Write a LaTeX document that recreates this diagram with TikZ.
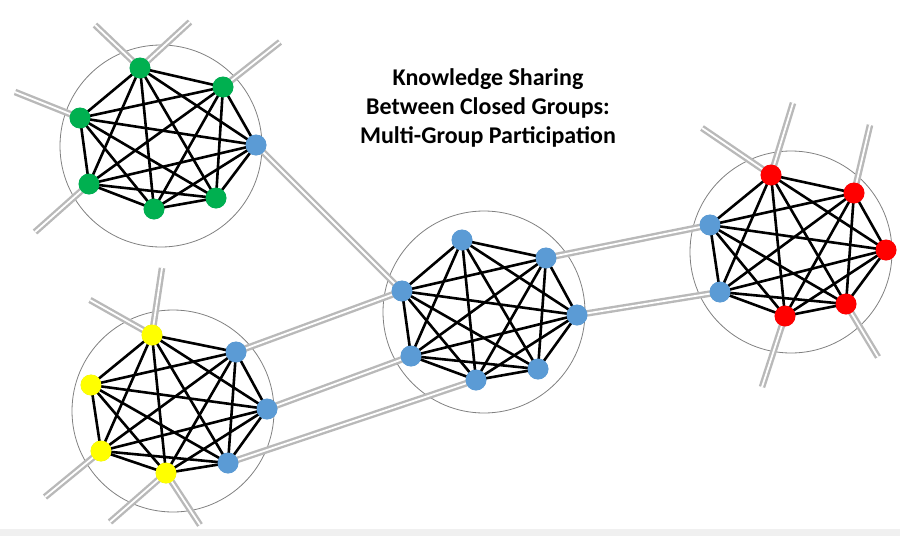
\documentclass[tikz,border=0pt]{standalone}
\usepackage{fontspec}
\setmainfont{Carlito}
\definecolor{gG}{RGB}{0,176,80}
\definecolor{gB}{RGB}{91,155,213}
\definecolor{gY}{RGB}{255,255,0}
\definecolor{gR}{RGB}{255,0,0}
\definecolor{gL}{RGB}{185,185,185}
\begin{document}
\begin{tikzpicture}[x=1pt,y=-1pt,
  v/.style={circle,minimum size=20pt,inner sep=0pt,draw=gB!80!black,line width=0.4pt},
  grp/.style={draw=gray,line width=0.8pt},
  link/.style={draw=gL,double=white,line width=2.4pt,double distance=1.8pt},
  e/.style={draw=black,line width=2.6pt},
  ttl/.style={font=\bfseries\fontsize{24}{29}\selectfont,align=center}]
\useasboundingbox (0,0) rectangle (900,536);
\fill[gray!12] (0,529) rectangle (900,536);
\node[ttl] (title) at (488,108) {Knowledge Sharing\\Between Closed Groups:\\Multi-Group Participation};
\draw[grp] (161,146) circle (101);
\draw[grp] (173,411) circle (101);
\draw[grp] (484,312) circle (101);
\draw[grp] (791,252) circle (101);
\node[v,fill=gG] (a1) at (140,68) {};
\node[v,fill=gG] (a2) at (223,87) {};
\node[v,fill=gG] (a3) at (80,118) {};
\node[v,fill=gB] (a4) at (256,145) {};
\node[v,fill=gG] (a5) at (89,184) {};
\node[v,fill=gG] (a6) at (154,209) {};
\node[v,fill=gG] (a7) at (216,198) {};
\node[v,fill=gY] (b1) at (152,335) {};
\node[v,fill=gB] (b2) at (236,352) {};
\node[v,fill=gY] (b3) at (91,385) {};
\node[v,fill=gB] (b4) at (267,409) {};
\node[v,fill=gY] (b5) at (101,451) {};
\node[v,fill=gY] (b6) at (166,473) {};
\node[v,fill=gB] (b7) at (228,463) {};
\node[v,fill=gB] (m1) at (462,240) {};
\node[v,fill=gB] (m2) at (546,258) {};
\node[v,fill=gB] (m3) at (402,291) {};
\node[v,fill=gB] (m4) at (577,315) {};
\node[v,fill=gB] (m5) at (411,356) {};
\node[v,fill=gB] (m6) at (476,380) {};
\node[v,fill=gB] (m7) at (538,369) {};
\node[v,fill=gR] (r1) at (771,175) {};
\node[v,fill=gR] (r2) at (854,193) {};
\node[v,fill=gB] (r3) at (710,225) {};
\node[v,fill=gR] (r4) at (886,250) {};
\node[v,fill=gB] (r5) at (720,292) {};
\node[v,fill=gR] (r6) at (785,316) {};
\node[v,fill=gR] (r7) at (846,304) {};
\coordinate (s1) at (95,25); \coordinate (s2) at (190,22);
\coordinate (s3) at (280,42); \coordinate (s4) at (15,92);
\coordinate (s5) at (35,232);
\coordinate (s6) at (162,268); \coordinate (s7) at (90,300);
\coordinate (s8) at (45,497); \coordinate (s9) at (110,522);
\coordinate (s10) at (200,525);
\coordinate (s11) at (702,128); \coordinate (s12) at (793,103);
\coordinate (s13) at (870,125); \coordinate (s14) at (762,387);
\coordinate (s15) at (878,357);
\foreach \n/\s in {a1/s1,a1/s2,a2/s3,a3/s4,a5/s5,b1/s6,b1/s7,b5/s8,b6/s9,b6/s10,r1/s11,r1/s12,r2/s13,r6/s14,r7/s15}
  \draw[link] (\n.center) -- (\s);
\foreach \p/\q in {a4/m3,b2/m3,b4/m5,b7/m6,m2/r3,m4/r5}
  \draw[link] (\p.center) -- (\q.center);
\foreach \g in {a,b,m,r}{
  \foreach \i in {1,...,7}{
    \foreach \j in {1,...,7}{
      \ifnum\i<\j \draw[e] (\g\i.center) -- (\g\j.center); \fi
    }}}
\foreach \n/\c in {a1/gG,a2/gG,a3/gG,a4/gB,a5/gG,a6/gG,a7/gG,b1/gY,b2/gB,b3/gY,b4/gB,b5/gY,b6/gY,b7/gB,m1/gB,m2/gB,m3/gB,m4/gB,m5/gB,m6/gB,m7/gB,r1/gR,r2/gR,r3/gB,r4/gR,r5/gB,r6/gR,r7/gR}
  \fill[\c] (\n.center) circle (10.5);
\end{tikzpicture}
\end{document}
